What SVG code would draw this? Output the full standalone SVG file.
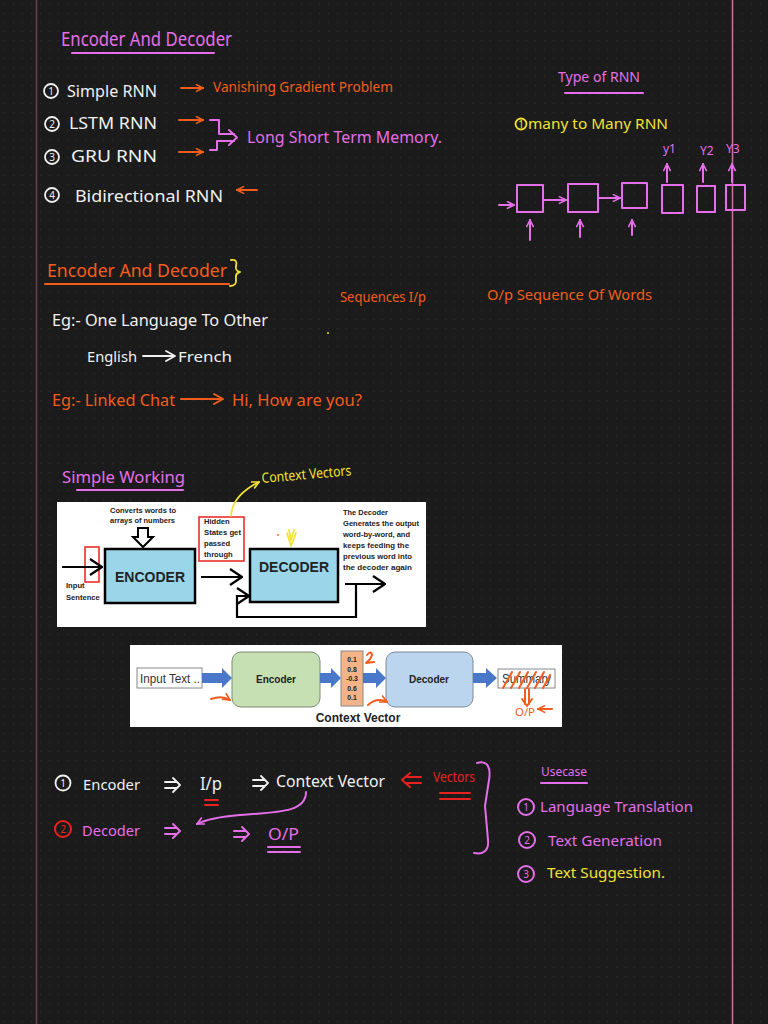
<svg xmlns="http://www.w3.org/2000/svg" width="768" height="1024" viewBox="0 0 768 1024">
<style>
.hw{font-family:"Noto Sans","Liberation Sans",sans-serif;}
.m{fill:#e46fe8}.o{fill:#f25d1d}.w{fill:#f0f0f0}.y{fill:#f2e233}.r{fill:#e8221e}
.sm{stroke:#e46fe8;fill:none;stroke-width:2;stroke-linecap:round;stroke-linejoin:round}
.so{stroke:#f25d1d;fill:none;stroke-width:2;stroke-linecap:round;stroke-linejoin:round}
.sw{stroke:#f0f0f0;fill:none;stroke-width:1.8;stroke-linecap:round;stroke-linejoin:round}
.sy{stroke:#f2e233;fill:none;stroke-width:1.8;stroke-linecap:round;stroke-linejoin:round}
.sr{stroke:#e8221e;fill:none;stroke-width:2;stroke-linecap:round;stroke-linejoin:round}
.sk{stroke:#000;fill:none;stroke-width:2.2}
.cbox{stroke:#000;stroke-width:2.5;fill:#99d6ea}
.cap{font-family:"Liberation Sans",Arial,sans-serif;font-weight:bold;fill:#222}
.reg{font-family:"Liberation Sans",Arial,sans-serif;fill:#333}
.blue{fill:#4a78c8}
.num{font-family:"Noto Sans","Liberation Sans",sans-serif;font-size:10px;text-anchor:middle}
</style>
<defs>
<pattern id="dots" width="9" height="9" patternUnits="userSpaceOnUse"><circle cx="4.5" cy="4.5" r="0.7" fill="#2c2c2c"/></pattern>
<marker id="ao" viewBox="-1 -1 10 10" refX="8" refY="4" markerWidth="9" markerHeight="9" markerUnits="userSpaceOnUse" orient="auto"><path d="M0 0 L8 4 L0 8" fill="none" stroke="#f25d1d" stroke-width="1.8"/></marker>
<marker id="am" viewBox="-1 -1 10 10" refX="8" refY="4" markerWidth="9" markerHeight="9" markerUnits="userSpaceOnUse" orient="auto"><path d="M0 0 L8 4 L0 8" fill="none" stroke="#e46fe8" stroke-width="1.8"/></marker>
<marker id="ay" viewBox="-1 -1 10 10" refX="8" refY="4" markerWidth="9" markerHeight="9" markerUnits="userSpaceOnUse" orient="auto"><path d="M0 0 L8 4 L0 8" fill="none" stroke="#f2e233" stroke-width="1.8"/></marker>
<marker id="ak" viewBox="-1 -1 14 18" refX="12" refY="8" markerWidth="14" markerHeight="18" markerUnits="userSpaceOnUse" orient="auto"><path d="M0 0 L12 8 L0 16" fill="none" stroke="#000" stroke-width="2.2"/></marker>
</defs>

<rect width="768" height="1024" fill="#1b1b1b"/>
<rect width="768" height="1024" fill="url(#dots)"/>
<line x1="36.5" y1="0" x2="36.5" y2="1024" stroke="#6a4456" stroke-width="1.5"/>
<line x1="732.5" y1="0" x2="732.5" y2="1024" stroke="#c8719a" stroke-width="1.5"/>

<g id="title1">
<text x="61" y="46" class="hw m" font-size="20" textLength="171" lengthAdjust="spacingAndGlyphs">Encoder And Decoder</text>
<line x1="72" y1="53" x2="214" y2="53" class="sm"/>
</g>

<g id="item1">
<circle cx="51" cy="91" r="7" class="sw"/><text x="51" y="95" class="num w">1</text>
<text x="67" y="97" class="hw w" font-size="17" textLength="90" lengthAdjust="spacingAndGlyphs">Simple RNN</text>
</g>
<g id="vanishing">
<text x="213" y="92" class="hw o" font-size="15" textLength="180" lengthAdjust="spacingAndGlyphs">Vanishing Gradient Problem</text>
</g>
<g id="item2">
<circle cx="52" cy="124" r="7" class="sw"/><text x="52" y="128" class="num w">2</text>
<text x="69" y="129" class="hw w" font-size="16" textLength="88" lengthAdjust="spacingAndGlyphs">LSTM RNN</text>
</g>
<g id="item3">
<circle cx="52" cy="157" r="7" class="sw"/><text x="52" y="161" class="num w">3</text>
<text x="71" y="162" class="hw w" font-size="16" textLength="86" lengthAdjust="spacingAndGlyphs">GRU RNN</text>
</g>
<g id="lstm">
<text x="247" y="143" class="hw m" font-size="16" textLength="195" lengthAdjust="spacingAndGlyphs">Long Short Term Memory.</text>
</g>
<g id="item4">
<circle cx="52" cy="195" r="7" class="sw"/><text x="52" y="199" class="num w">4</text>
<text x="75" y="202" class="hw w" font-size="17" textLength="148" lengthAdjust="spacingAndGlyphs">Bidirectional RNN</text>
</g>

<g id="types">
<text x="558" y="82" class="hw m" font-size="14" textLength="82" lengthAdjust="spacingAndGlyphs">Type of RNN</text>
<line x1="565" y1="93" x2="643" y2="93" class="sm"/>
<circle cx="521" cy="124" r="5.5" class="sy"/><text x="521" y="128" class="num y" font-size="8">1</text>
<text x="528" y="129" class="hw y" font-size="14" textLength="140" lengthAdjust="spacingAndGlyphs">many to Many RNN</text>
<text x="663" y="153" class="hw m" font-size="12">y1</text>
<text x="700" y="155" class="hw m" font-size="12">Y2</text>
<text x="726" y="153" class="hw m" font-size="12">Y3</text>
</g>
<g id="rnn-cells" class="sm">
<rect x="517" y="185" width="26" height="27"/>
<rect x="568" y="184" width="30" height="28"/>
<rect x="622" y="183" width="25" height="25"/>
<rect x="662" y="185" width="21" height="28"/>
<rect x="697" y="186" width="18" height="26"/>
<rect x="726" y="185" width="19" height="25"/>
</g>

<g id="sec2">
<text x="47" y="277" class="hw o" font-size="18" textLength="180" lengthAdjust="spacingAndGlyphs">Encoder And Decoder</text>
<line x1="45" y1="284" x2="229" y2="284" class="so"/>
<path d="M231 260 Q238 259 236 266 Q235 271 240 272 Q235 273 236 279 Q237 286 230 286" class="sy"/>
<text x="340" y="302" class="hw o" font-size="14" textLength="86" lengthAdjust="spacingAndGlyphs">Sequences I/p</text>
<text x="487" y="300" class="hw o" font-size="14" textLength="165" lengthAdjust="spacingAndGlyphs">O/p Sequence Of Words</text>
<circle cx="328" cy="333" r="1" fill="#f2e233"/>
<text x="52" y="326" class="hw w" font-size="16" textLength="216" lengthAdjust="spacingAndGlyphs">Eg:- One Language To Other</text>
<text x="87" y="362" class="hw w" font-size="15" textLength="50" lengthAdjust="spacingAndGlyphs">English</text>
<text x="178" y="362" class="hw w" font-size="15" textLength="54" lengthAdjust="spacingAndGlyphs">French</text>
<text x="52" y="406" class="hw o" font-size="16" textLength="123" lengthAdjust="spacingAndGlyphs">Eg:- Linked Chat</text>
<text x="232" y="406" class="hw o" font-size="16" textLength="130" lengthAdjust="spacingAndGlyphs">Hi, How are you?</text>
</g>

<g id="simple-working">
<text x="62" y="483" class="hw m" font-size="17" textLength="123" lengthAdjust="spacingAndGlyphs">Simple Working</text>
<line x1="77" y1="490" x2="183" y2="490" class="sm"/>
<text x="262" y="483" class="hw y" font-size="14" textLength="90" lengthAdjust="spacingAndGlyphs" transform="rotate(-5 262 483)">Context Vectors</text>
</g>

<g id="figure1">
<rect x="57" y="502" width="369" height="125" fill="#ffffff"/>
<text class="cap" font-size="7.6"><tspan x="110" y="513" textLength="66" lengthAdjust="spacingAndGlyphs">Converts words to</tspan><tspan x="110" y="523" textLength="65" lengthAdjust="spacingAndGlyphs">arrays of numbers</tspan></text>
<polygon points="138,528 148,528 148,537 153,537 143,547 133,537 138,537" fill="#fff" stroke="#000" stroke-width="2"/>
<rect x="105" y="549" width="90" height="54" class="cbox"/>
<text x="150" y="582" class="cap" font-size="14" text-anchor="middle" fill="#111">ENCODER</text>
<rect x="250" y="549" width="88" height="53" class="cbox"/>
<text x="294" y="572" class="cap" font-size="14" text-anchor="middle" fill="#111">DECODER</text>
<text class="cap" font-size="7.6"><tspan x="66" y="588">Input</tspan><tspan x="66" y="600">Sentence</tspan></text>
<text class="cap" font-size="7.6"><tspan x="204" y="524">Hidden</tspan><tspan x="204" y="535" textLength="37" lengthAdjust="spacingAndGlyphs">States get</tspan><tspan x="204" y="546">passed</tspan><tspan x="204" y="557">through</tspan></text>
<text class="cap" font-size="7.6"><tspan x="343" y="515" textLength="45" lengthAdjust="spacingAndGlyphs">The Decoder</tspan><tspan x="343" y="526" textLength="76" lengthAdjust="spacingAndGlyphs">Generates the output</tspan><tspan x="343" y="537" textLength="67" lengthAdjust="spacingAndGlyphs">word-by-word, and</tspan><tspan x="343" y="548" textLength="66" lengthAdjust="spacingAndGlyphs">keeps feeding the</tspan><tspan x="343" y="559" textLength="69" lengthAdjust="spacingAndGlyphs">previous word into</tspan><tspan x="343" y="570" textLength="69" lengthAdjust="spacingAndGlyphs">the decoder again</tspan></text>
<rect x="85" y="547" width="14" height="35" fill="none" stroke="#e8221e" stroke-width="1.5"/>
<rect x="199" y="517" width="45" height="44" fill="none" stroke="#e8221e" stroke-width="1.5"/>
<path d="M287 533 L291 546 L296 533 M289 530 L291 540 M294 530 L291 540" class="sy" stroke-width="1.4"/>
<circle cx="278" cy="535" r="0.9" fill="#f25d1d"/>
</g>

<g id="figure2">
<rect x="130" y="645" width="432" height="82" fill="#ffffff"/>
<rect x="137" y="668" width="65" height="20" fill="#fff" stroke="#888" stroke-width="1"/>
<text x="140" y="683" class="reg" font-size="12" textLength="60" lengthAdjust="spacingAndGlyphs">Input Text ..</text>
<rect x="232" y="652" width="88" height="55" rx="9" fill="#c6dfb3" stroke="#7d8a74" stroke-width="1"/>
<text x="276" y="683" class="cap" font-size="10" text-anchor="middle">Encoder</text>
<rect x="341" y="651" width="22" height="55" fill="#f5b387" stroke="#888" stroke-width="1"/>
<text class="cap" font-size="6.8" text-anchor="middle"><tspan x="352" y="662">0.1</tspan><tspan x="352" y="671.5">0.8</tspan><tspan x="352" y="681">-0.3</tspan><tspan x="352" y="690.5">0.6</tspan><tspan x="352" y="700">0.1</tspan></text>
<rect x="386" y="652" width="87" height="55" rx="9" fill="#bcd5ee" stroke="#7d8a99" stroke-width="1"/>
<text x="429" y="683" class="cap" font-size="10" text-anchor="middle">Decoder</text>
<rect x="498" y="669" width="57" height="19" fill="#fff" stroke="#888" stroke-width="1"/>
<text x="502" y="683" class="reg" font-size="12" textLength="49" lengthAdjust="spacingAndGlyphs">Summary</text>
<text x="358" y="722" class="cap" font-size="12" text-anchor="middle">Context Vector</text>
<g class="blue">
<polygon points="202,673 222,673 222,668 232,678 222,688 222,683 202,683"/>
<polygon points="320,673 331,673 331,668 341,678 331,688 331,683 320,683"/>
<polygon points="363,673 376,673 376,668 386,678 376,688 376,683 363,683"/>
<polygon points="473,673 486,673 486,668 497,678 486,688 486,683 473,683"/>
</g>
<path d="M503 688 L512 672 M511 688 L520 672 M519 688 L528 672 M527 688 L536 672 M535 688 L544 672 M543 688 L550 675" class="so" stroke-width="1.3"/>
<path d="M367 655 Q371 650 372 655 Q371 659 366 663 L374 662" class="so" stroke-width="1.3"/>
<text x="515" y="716" class="hw o" font-size="11" textLength="20" lengthAdjust="spacingAndGlyphs">O/P</text>
</g>

<g id="bottom-encoder">
<circle cx="63" cy="783" r="7.5" class="sw"/><text x="63" y="787" class="num w">1</text>
<text x="83" y="790" class="hw w" font-size="15" textLength="57" lengthAdjust="spacingAndGlyphs">Encoder</text>
<text x="200" y="790" class="hw w" font-size="18" textLength="22" lengthAdjust="spacingAndGlyphs">I/p</text>
<text x="276" y="787" class="hw w" font-size="16" textLength="109" lengthAdjust="spacingAndGlyphs">Context Vector</text>
<text x="433" y="782" class="hw r" font-size="14" textLength="42" lengthAdjust="spacingAndGlyphs">Vectors</text>
<path d="M205 800 H218 M205 805 H218 M440 793 H470 M440 799 H470" class="sr"/>
</g>
<g id="bottom-decoder">
<circle cx="63" cy="829" r="8" class="sr"/><text x="63" y="833" class="num r">2</text>
<text x="82" y="836" class="hw m" font-size="15" textLength="58" lengthAdjust="spacingAndGlyphs">Decoder</text>
<text x="268" y="840" class="hw m" font-size="16" textLength="31" lengthAdjust="spacingAndGlyphs">O/P</text>
<path d="M268 847 H300 M268 852 H300" class="sm"/>
<path d="M477 763 C488 760 491 768 489 780 L485 806 L488 840 C489 850 484 855 474 853" class="sm"/>
</g>

<g id="usecase">
<text x="541" y="776" class="hw m" font-size="13" textLength="46" lengthAdjust="spacingAndGlyphs">Usecase</text>
<line x1="541" y1="783" x2="587" y2="783" class="sm"/>
<circle cx="526" cy="807" r="8" class="sm" stroke-width="1.6"/><text x="526" y="811" class="num m">1</text>
<text x="540" y="812" class="hw m" font-size="15" textLength="153" lengthAdjust="spacingAndGlyphs">Language Translation</text>
<circle cx="527" cy="840" r="8" class="sm" stroke-width="1.6"/><text x="527" y="844" class="num m">2</text>
<text x="548" y="846" class="hw m" font-size="15" textLength="114" lengthAdjust="spacingAndGlyphs">Text Generation</text>
<circle cx="526" cy="874" r="8" class="sm" stroke-width="1.6"/><text x="526" y="878" class="num m">3</text>
<text x="547" y="878" class="hw y" font-size="15" textLength="118" lengthAdjust="spacingAndGlyphs">Text Suggestion.</text>
</g>

<g id="connectors">
<path d="M181 88 H203" class="so" marker-end="url(#ao)"/>
<path d="M179 120 H203" class="so" marker-end="url(#ao)"/>
<path d="M179 152 H203" class="so" marker-end="url(#ao)"/>
<path d="M257 190 H237" class="so" marker-end="url(#ao)"/>
<path d="M210 120 H219 V133 M210 150 H217 V141 M219 134 H234 M217 141 H234" class="sm"/>
<path d="M229 130 L237 137.5 L229 145" class="sm"/>
<path d="M499 205 H514" class="sm" marker-end="url(#am)"/>
<path d="M543 195 V205 M543 200 H566" class="sm" marker-end="url(#am)"/>
<path d="M598 193 V203 M598 198 H620" class="sm" marker-end="url(#am)"/>
<path d="M530 240 V220" class="sm" marker-end="url(#am)"/>
<path d="M580 237 V220" class="sm" marker-end="url(#am)"/>
<path d="M632 235 V220" class="sm" marker-end="url(#am)"/>
<path d="M667 182 V164" class="sm" marker-end="url(#am)"/>
<path d="M703 182 V164" class="sm" marker-end="url(#am)"/>
<path d="M732 182 V164" class="sm" marker-end="url(#am)"/>
<path d="M143 356 H174 M166 351 L175 356 L166 361" class="sw"/>
<path d="M181 399 H222 M214 394 L223 399 L214 404" class="so"/>
<path d="M231 516 C232 500 245 489 259 482" class="sy" marker-end="url(#ay)"/>
<path d="M62 567 H102" class="sk" marker-end="url(#ak)"/>
<path d="M201 577 H242" class="sk" marker-end="url(#ak)"/>
<path d="M345 584 H385" class="sk" marker-end="url(#ak)"/>
<path d="M356 584 V617 H237 V596 H249" class="sk" marker-end="url(#ak)"/>
<path d="M211 699 Q222 695 230 700" class="so" stroke-width="1.4" marker-end="url(#ao)"/>
<path d="M368 705 Q377 697 387 702" class="so" stroke-width="1.4" marker-end="url(#ao)"/>
<path d="M525 689 V704 M529 689 V704" class="so" stroke-width="1.3"/>
<path d="M522 699 L527 706 L532 699" class="so" stroke-width="1.3"/>
<path d="M552 709 H538" class="so" stroke-width="1.4" marker-end="url(#ao)"/>
<path d="M165 782 H177 M165 788 H177 M173 778 L180 785 L173 792" class="sw"/>
<path d="M253 780 H265 M253 786 H265 M261 776 L268 783 L261 790" class="sw"/>
<path d="M421 777 H407 M421 783 H407 M410 773 L402 780 L410 787" class="sr"/>
<path d="M306 792 C306 812 280 812 240 815 C215 817 205 820 197 824" class="sm" marker-end="url(#am)"/>
<path d="M165 828 H177 M165 834 H177 M173 824 L180 831 L173 838" class="sm"/>
<path d="M234 831 H246 M234 837 H246 M242 827 L249 834 L242 841" class="sm"/>
</g>
</svg>
